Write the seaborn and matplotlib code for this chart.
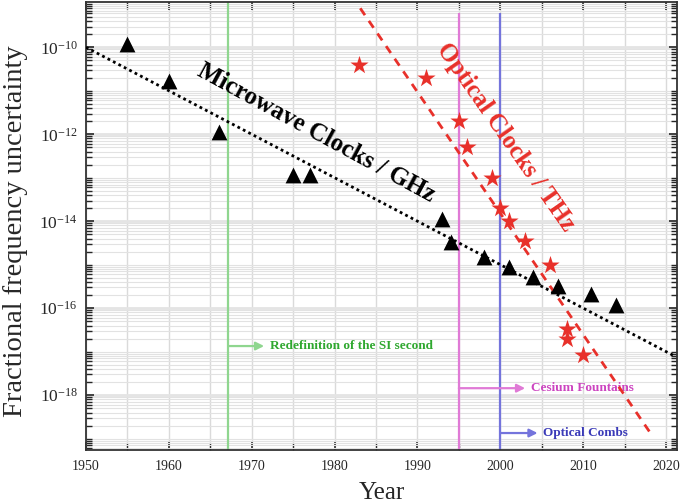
import numpy as np
import pandas as pd
import matplotlib
matplotlib.use("Agg")
import matplotlib.pyplot as plt
import matplotlib.ticker as mticker
import seaborn as sns

# microwave clocks (triangles)
mw_years = [1955, 1960, 1966, 1975, 1977, 1993, 1994, 1998, 2001, 2004, 2007, 2011, 2014]
mw_unc = [1.2e-10, 1.7e-11, 1.15e-12, 1.15e-13, 1.15e-13, 1.1e-14, 3.3e-15, 1.5e-15,
          8.7e-16, 5.3e-16, 3.3e-16, 2.1e-16, 1.2e-16]

# optical clocks (stars)
opt_years = [1983, 1991, 1995, 1996, 1999, 2000, 2001, 2003, 2006, 2008, 2008, 2010]
opt_unc = [4e-11, 2e-11, 2e-12, 5e-13, 1e-13, 2e-14, 1e-14, 3.5e-15, 1e-15, 3.3e-17, 2e-17, 8.5e-18]

# trend lines (end points)
mw_fit_years = [1950, 2021]
mw_fit_unc = [1e-10, 8e-18]
opt_fit_years = [1983.1, 2018.3]
opt_fit_unc = [7.9e-10, 1.2e-19]

# milestones
event_years = [1967.2, 1995, 2000]
event_labels = ["Redefinition of the SI second", "Cesium Fountains", "Optical Combs"]
event_arrow_y = [1.35e-17, 1.45e-18, 1.35e-19]

sns.set_style("ticks")
plt.rcParams["font.family"] = ["Liberation Serif", "DejaVu Serif"]
plt.rcParams["mathtext.fontset"] = "stix"

fig = plt.figure(figsize=(6.85, 5.03), dpi=100)
ax = fig.add_axes([0.1255, 0.1054, 0.8625, 0.8906])

red = "#e8302a"
line_cols = ["#8fd68f", "#e07ad6", "#7474dc"]
text_cols = ["#2fa82f", "#cc44c0", "#3a3ab8"]

# vertical milestone lines
ax.axvline(event_years[0], color=line_cols[0], lw=1.6, zorder=2)
for yr, c in zip(event_years[1:], line_cols[1:]):
    ax.vlines(yr, 5.5e-20, 6e-10, color=c, lw=1.6, zorder=2)

# arrows + labels
arrow_len = [4.3, 8.0, 4.5]
for yr, lab, ya, lc, tc, L in zip(event_years, event_labels, event_arrow_y,
                                  line_cols, text_cols, arrow_len):
    ax.annotate("", xy=(yr + L, ya), xytext=(yr, ya),
                arrowprops=dict(arrowstyle="-|>", color=lc, lw=1.6,
                                mutation_scale=12, shrinkA=0, shrinkB=0))
    ax.text(yr + L + 0.7, ya, lab, color=tc, fontsize=9.5, fontweight="bold",
            va="center", ha="left")

# trend lines
sns.lineplot(x=mw_fit_years, y=mw_fit_unc, ax=ax, color="black", lw=2,
             linestyle=(0, (1, 1.2)), zorder=3)
sns.lineplot(x=opt_fit_years, y=opt_fit_unc, ax=ax, color=red, lw=2,
             linestyle=(0, (3, 2.5)), zorder=3)

# data points
sns.scatterplot(x=mw_years, y=mw_unc, ax=ax, marker="^", s=130, color="black",
                edgecolor="black", linewidth=0, zorder=4)
sns.scatterplot(x=opt_years, y=opt_unc, ax=ax, marker="*", s=190, color=red,
                edgecolor=red, linewidth=0, zorder=4)

ax.set_yscale("log")
ax.set_xlim(1950, 2021.3)
ax.set_ylim(5.5e-20, 1.1e-9)

ax.xaxis.set_major_locator(mticker.MultipleLocator(10))
ax.xaxis.set_minor_locator(mticker.MultipleLocator(5))
ax.yaxis.set_major_locator(mticker.FixedLocator([1e-10, 1e-12, 1e-14, 1e-16, 1e-18]))
ax.yaxis.set_major_formatter(mticker.FuncFormatter(
    lambda v, p: r"$\mathregular{10^{%d}}$" % round(np.log10(v))))
ax.yaxis.set_minor_locator(mticker.LogLocator(base=10, subs=np.arange(1, 10), numticks=30))
ax.yaxis.set_minor_formatter(mticker.NullFormatter())

ax.tick_params(which="both", direction="in", top=True, right=True)
ax.tick_params(which="major", length=6, width=1.2)
ax.tick_params(axis="x", which="major", labelsize=10, pad=7)
ax.tick_params(axis="y", which="major", labelsize=12.5, pad=6)
ax.tick_params(which="minor", length=3, width=1)
ax.tick_params(axis="y", which="minor", length=4)
ax.tick_params(axis="x", which="minor", length=5)

ax.grid(which="major", axis="x", color="#dadada", lw=1)
ax.grid(which="minor", axis="x", color="#dadada", lw=1)
ax.grid(which="minor", axis="y", color="#e2e2e2", lw=0.8)
ax.grid(which="major", axis="y", color="#e4e4e4", lw=2)
ax.set_axisbelow(True)
for s in ax.spines.values():
    s.set_linewidth(1.3)
    s.set_color("#333333")

ax.set_xlabel("Year", fontsize=18, labelpad=7)
ax.set_ylabel("Fractional frequency uncertainty", fontsize=20.5)
ax.yaxis.set_label_coords(-0.098, 0.488)

ax.text(1977.8, 1.07e-12, "Microwave Clocks / GHz", fontsize=18, fontweight="bold",
        rotation=-28.5, rotation_mode="anchor", ha="center", va="center", color="black")
ax.text(2000.7, 8.5e-13, "Optical Clocks / THz", fontsize=18, fontweight="bold",
        rotation=-55, rotation_mode="anchor", ha="center", va="center", color=red)

plt.savefig("out.png", dpi=100)
